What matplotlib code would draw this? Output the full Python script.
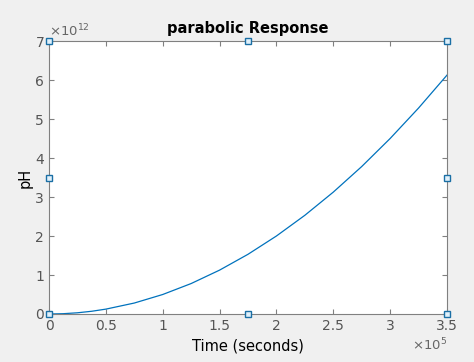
import matplotlib
matplotlib.use("Agg")
import matplotlib.pyplot as plt
from matplotlib.ticker import FuncFormatter

# Data (time in seconds, pH response)
time_s = [0.0, 0.125e5, 0.25e5, 0.375e5, 0.5e5, 0.75e5, 1.0e5, 1.25e5, 1.5e5,
          1.75e5, 2.0e5, 2.25e5, 2.5e5, 2.75e5, 3.0e5, 3.25e5, 3.5e5]
ph_vals = [0.0, 0.0078e12, 0.031e12, 0.070e12, 0.125e12, 0.281e12, 0.50e12, 0.781e12,
           1.125e12, 1.531e12, 2.0e12, 2.531e12, 3.125e12, 3.781e12, 4.5e12, 5.281e12, 6.125e12]
x_ticks = [0, 0.5e5, 1.0e5, 1.5e5, 2.0e5, 2.5e5, 3.0e5, 3.5e5]
y_ticks = [0, 1e12, 2e12, 3e12, 4e12, 5e12, 6e12, 7e12]

fig = plt.figure(figsize=(4.74, 3.62), dpi=100, facecolor="#f0f0f0")
ax = fig.add_axes([0.1034, 0.1326, 0.8396, 0.7541])
ax.set_facecolor("white")
ax.plot(time_s, ph_vals, color="#0072BD", linewidth=0.9)

ax.set_xlim(0, 3.5e5)
ax.set_ylim(0, 7e12)
ax.set_xticks(x_ticks)
ax.set_yticks(y_ticks)
ax.xaxis.set_major_formatter(FuncFormatter(lambda v, p: f"{v/1e5:g}"))
ax.yaxis.set_major_formatter(FuncFormatter(lambda v, p: f"{v/1e12:g}"))

gray = "#808080"
for s in ax.spines.values():
    s.set_color(gray)
    s.set_linewidth(0.8)
ax.tick_params(direction="in", length=3.5, width=0.8, color=gray, labelcolor="#555555",
               labelsize=10, top=True, right=True)

ax.set_xlabel("Time (seconds)", fontsize=10.5, color="black", labelpad=4)
ax.set_ylabel("pH", fontsize=10.5, color="black", labelpad=2)
ax.set_title("parabolic Response", fontsize=10.5, fontweight="bold", pad=6)

ax.text(0.0, 1.008, r"$\times10^{12}$", transform=ax.transAxes, fontsize=9.5,
        color="#666666", ha="left", va="bottom")
ax.text(1.0, -0.114, r"$\times10^{5}$", transform=ax.transAxes, fontsize=9.5,
        color="#666666", ha="right", va="center")

# Selection handles (plot-edit mode)
hx = [0, 0, 0, 0.5, 1, 1, 1, 0.5]
hy = [0, 0.5, 1, 1, 1, 0.5, 0, 0]
ax.plot(hx, hy, linestyle="none", marker="s", markersize=4.5, markerfacecolor="#e0f0fa",
        markeredgecolor="#1a6fa5", markeredgewidth=1.0, transform=ax.transAxes,
        clip_on=False, zorder=5)

fig.savefig("out.png", dpi=100, facecolor=fig.get_facecolor())
